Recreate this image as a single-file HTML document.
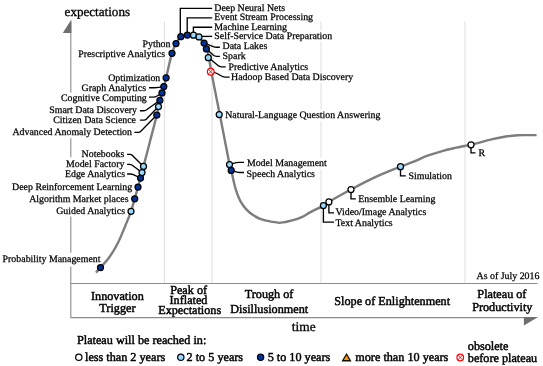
<!DOCTYPE html>
<html lang="en"><head><meta charset="utf-8"><title>Hype Cycle for Data Science, 2016</title>
<style>html,body{margin:0;padding:0;background:#fff}svg{display:block}text{text-rendering:geometricPrecision}</style></head>
<body>
<svg width="543" height="366" viewBox="0 0 543 366">
<rect width="543" height="366" fill="#fff"/>
<path d="M164.5,21.5V47.5M164.5,58.5V283.5M212,42V283.5M321,21.5V31M321,41.5V71.5M321,83V109.5M321,121V157.5M321,169V283.5M465,21.5V283.5" fill="none" stroke="#dedede" stroke-width="1"/>
<g stroke="#8c8c8c" stroke-width="1.1" fill="none">
<path d="M70.8,22V92.4M70.8,138.3V157.2M70.8,216.6V252.7M70.8,266.5V317.6H524.5"/>
<path d="M70.8,283.5H537.5"/>
</g>
<path d="M71.4,19.5V33H62.8Z" fill="#6e6e6e"/>
<path d="M523.9,317.1H538.2L523.9,325.6Z" fill="#6e6e6e"/>
<path d="M96.0,272.6C97.5,270.9 98.7,269.4 100.4,267.5C102.6,265.0 105.4,262.4 108.0,259.0C111.3,254.6 115.1,248.4 118.0,242.7C120.9,237.0 123.3,230.5 125.6,225.0C127.6,220.2 129.5,215.8 131.0,211.3C132.5,207.1 133.5,202.9 134.7,198.8C135.8,194.8 137.0,190.7 138.0,187.0C138.9,183.8 139.6,181.2 140.5,178.0C141.5,174.4 142.3,171.0 143.5,166.4C145.3,159.6 147.9,149.5 150.1,141.0C152.3,132.4 155.1,122.4 156.8,115.0C158.1,109.5 158.6,105.4 159.8,100.7C161.0,96.1 162.7,91.2 163.8,87.1C164.7,83.7 165.2,81.6 166.1,77.8C167.6,71.6 170.0,59.6 172.0,53.3C173.3,49.3 174.3,46.4 175.9,43.6C177.3,41.1 178.8,38.4 180.8,36.9C182.6,35.5 185.1,34.9 187.3,34.6C189.4,34.3 191.5,34.6 193.5,35.1C195.5,35.6 197.4,36.3 199.1,37.6C201.0,39.0 202.8,41.6 204.2,43.6C205.4,45.4 206.2,47.1 207.0,49.2C207.9,51.7 208.3,54.4 208.9,57.6C209.7,61.7 210.2,65.9 211.3,71.9C213.3,82.3 216.9,99.8 219.8,114.6C223.0,130.6 227.7,156.1 229.7,164.7C230.4,167.7 230.7,168.2 231.3,170.7C232.4,175.1 233.9,183.3 235.6,188.8C237.1,193.6 238.7,198.1 240.8,201.8C242.6,204.9 244.6,207.5 246.8,209.8C248.9,212.0 251.2,214.0 253.8,215.6C256.4,217.3 259.5,218.6 262.4,219.6C265.2,220.6 268.1,221.0 271.0,221.6C273.9,222.1 276.7,222.5 279.6,222.9C282.3,222.4 284.8,222.1 287.6,221.5C290.7,220.8 294.6,219.8 297.5,218.8C300.0,217.9 302.0,217.1 304.1,216.0C306.2,214.9 307.6,213.7 310.0,212.4C313.5,210.4 320.0,207.6 323.4,205.6C325.7,204.3 326.4,203.4 328.9,201.9C333.8,198.9 343.3,193.6 351.0,189.5C359.1,185.2 367.9,180.6 376.3,176.7C384.4,173.0 393.6,169.4 400.5,166.7C405.6,164.7 409.3,163.5 413.8,161.7C418.4,159.8 423.0,157.4 427.6,155.7C432.2,154.0 436.8,152.6 441.4,151.3C446.0,150.0 450.4,149.0 455.2,147.9C460.3,146.7 465.3,145.9 471.0,144.6C477.6,143.1 486.0,140.7 492.5,139.2C497.8,138.0 502.7,137.0 507.2,136.3C510.9,135.7 514.1,135.4 517.5,135.2C520.7,135.0 523.8,135.1 527.0,135.1C530.2,135.1 533.4,135.1 536.6,135.1" fill="none" stroke="#7d7d7d" stroke-width="2.4" stroke-linecap="butt" stroke-linejoin="round"/>
<g stroke="#000" stroke-width="1.35" fill="none">
<path d="M180.3,36.4V8.4H212.2"/>
<path d="M187.2,34.7V17.8H212.2"/>
<path d="M193.4,34.9V27.2H212.2"/>
<path d="M199,36.4H212.2"/>
<path d="M204.1,43.1L213.3,46.6Q214.9,47.2 216.5,47.2H219.9"/>
<path d="M206.4,48.9L213.5,55.3Q214.7,56.3 216.3,56.3H219.9"/>
<path d="M208.4,57.4L218.6,65.9Q220,66.9 222,66.9H225.7"/>
<path d="M210.75,71.65C213,71.7 215.5,72.6 218,74S222.5,77.1 225,77.1H229.7"/>
<path d="M229.5,164.5C233,163.6 236,162.3 239,162.3H244"/>
<path d="M231.2,170.4C234,171.2 236.5,172.5 239.5,172.5H244"/>
<path d="M323.4,205.3V222.1H334"/>
<path d="M328.9,201.6V212.9H334"/>
<path d="M351,189.2V198.8H355.8"/>
<path d="M400.5,166.4V175.9H405.8"/>
<path d="M471,144.8V152.8H475.5"/>
<path d="M149,87.7H154.5Q158.5,87.7 163.8,86.6"/>
<path d="M149,97.1H153.2Q155.5,97.1 157.5,95.7L162,92.9"/>
<path d="M139.9,110.7H144Q145.3,110.7 146.3,110L159.9,100.3"/>
<path d="M139.9,120.1H144Q145.3,120.1 146.2,119.2L158.5,106.5"/>
<path d="M134.4,132.4H138.4Q139.7,132.4 140.6,131.5L156.8,115"/>
<path d="M127.1,154.4H130Q131.3,154.4 132.2,155.3L143.5,166.4"/>
<path d="M127.1,164.3H129.6Q130.9,164.3 131.9,165L142,172.5"/>
<path d="M127.1,174H130.5Q132,174 133.3,174.6L140.5,178"/>
</g>
<circle cx="100.5" cy="267.6" r="3" fill="#003399" stroke="#000" stroke-width="1.25"/>
<circle cx="131" cy="211.3" r="3" fill="#99d9ff" stroke="#000" stroke-width="1.25"/>
<circle cx="134.7" cy="198.8" r="3" fill="#003399" stroke="#000" stroke-width="1.25"/>
<circle cx="138" cy="187.0" r="3" fill="#003399" stroke="#000" stroke-width="1.25"/>
<circle cx="140.5" cy="178.0" r="3" fill="#003399" stroke="#000" stroke-width="1.25"/>
<circle cx="142" cy="172.5" r="3" fill="#99d9ff" stroke="#000" stroke-width="1.25"/>
<circle cx="143.5" cy="166.4" r="3" fill="#99d9ff" stroke="#000" stroke-width="1.25"/>
<circle cx="156.8" cy="115.0" r="3" fill="#003399" stroke="#000" stroke-width="1.25"/>
<circle cx="158.5" cy="106.5" r="3" fill="#99d9ff" stroke="#000" stroke-width="1.25"/>
<circle cx="159.9" cy="100.3" r="3" fill="#003399" stroke="#000" stroke-width="1.25"/>
<circle cx="162" cy="92.9" r="3" fill="#003399" stroke="#000" stroke-width="1.25"/>
<circle cx="163.8" cy="86.6" r="3" fill="#003399" stroke="#000" stroke-width="1.25"/>
<circle cx="166.1" cy="77.8" r="3" fill="#003399" stroke="#000" stroke-width="1.25"/>
<circle cx="172" cy="53.3" r="3" fill="#003399" stroke="#000" stroke-width="1.25"/>
<circle cx="176" cy="43.5" r="3" fill="#003399" stroke="#000" stroke-width="1.25"/>
<circle cx="180.8" cy="36.7" r="3" fill="#003399" stroke="#000" stroke-width="1.25"/>
<circle cx="187.3" cy="35.0" r="3" fill="#003399" stroke="#000" stroke-width="1.25"/>
<circle cx="193.5" cy="35.2" r="3" fill="#99d9ff" stroke="#000" stroke-width="1.25"/>
<circle cx="199" cy="36.9" r="3" fill="#99d9ff" stroke="#000" stroke-width="1.25"/>
<circle cx="204.1" cy="43.1" r="3" fill="#003399" stroke="#000" stroke-width="1.25"/>
<circle cx="206.4" cy="48.9" r="3" fill="#003399" stroke="#000" stroke-width="1.25"/>
<circle cx="208.3" cy="57.7" r="3" fill="#99d9ff" stroke="#000" stroke-width="1.25"/>
<circle cx="219.2" cy="114.6" r="3" fill="#99d9ff" stroke="#000" stroke-width="1.25"/>
<circle cx="229.5" cy="164.5" r="3" fill="#99d9ff" stroke="#000" stroke-width="1.25"/>
<circle cx="231.2" cy="170.4" r="3" fill="#003399" stroke="#000" stroke-width="1.25"/>
<circle cx="323.4" cy="205.6" r="3" fill="#99d9ff" stroke="#000" stroke-width="1.25"/>
<circle cx="328.9" cy="201.9" r="3" fill="#ffffff" stroke="#000" stroke-width="1.25"/>
<circle cx="351" cy="189.5" r="3" fill="#ffffff" stroke="#000" stroke-width="1.25"/>
<circle cx="400.5" cy="166.7" r="3" fill="#99d9ff" stroke="#000" stroke-width="1.25"/>
<circle cx="471" cy="144.8" r="3" fill="#ffffff" stroke="#000" stroke-width="1.25"/>
<g stroke="#fa0808" fill="#fff"><circle cx="210.75" cy="71.65" r="3.35" stroke-width="1.25"/><path stroke-width="0.95" d="M208.34,69.24L213.16,74.06M208.34,74.06L213.16,69.24"/></g>
<g font-family="'Liberation Serif', 'Times New Roman', serif" font-size="9.9" fill="#000" stroke="#000" stroke-width="0.25">
<text x="100.5" y="261.8" text-anchor="end">Probability Management</text>
<text x="125" y="214.4" text-anchor="end">Guided Analytics</text>
<text x="128.5" y="201.9" text-anchor="end">Algorithm Market places</text>
<text x="132.2" y="190.1" text-anchor="end">Deep Reinforcement Learning</text>
<text x="125" y="177.4" text-anchor="end">Edge Analytics</text>
<text x="124.4" y="167.3" text-anchor="end">Model Factory</text>
<text x="124.4" y="157.4" text-anchor="end">Notebooks</text>
<text x="132" y="135.2" text-anchor="end">Advanced Anomaly Detection</text>
<text x="136" y="123.4" text-anchor="end">Citizen Data Science</text>
<text x="137" y="113.4" text-anchor="end">Smart Data Discovery</text>
<text x="146.8" y="101.4" text-anchor="end">Cognitive Computing</text>
<text x="146" y="91.2" text-anchor="end">Graph Analytics</text>
<text x="160.3" y="81.0" text-anchor="end">Optimization</text>
<text x="165.1" y="56.5" text-anchor="end">Prescriptive Analytics</text>
<text x="170.5" y="47.3" text-anchor="end">Python</text>
<text x="214.3" y="11.1" text-anchor="start">Deep Neural Nets</text>
<text x="214.3" y="20.4" text-anchor="start">Event Stream Processing</text>
<text x="214.3" y="29.7" text-anchor="start">Machine Learning</text>
<text x="214.3" y="39.3" text-anchor="start">Self-Service Data Preparation</text>
<text x="222.6" y="49.3" text-anchor="start">Data Lakes</text>
<text x="222.6" y="58.6" text-anchor="start">Spark</text>
<text x="228.4" y="70.1" text-anchor="start">Predictive Analytics</text>
<text x="231.1" y="80.2" text-anchor="start">Hadoop Based Data Discovery</text>
<text x="225.2" y="117.9" text-anchor="start">Natural-Language Question Answering</text>
<text x="246.9" y="165.6" text-anchor="start">Model Management</text>
<text x="246.6" y="176.6" text-anchor="start">Speech Analytics</text>
<text x="358.3" y="201.6" text-anchor="start">Ensemble Learning</text>
<text x="335.5" y="215.4" text-anchor="start">Video/Image Analytics</text>
<text x="335.5" y="226.0" text-anchor="start">Text Analytics</text>
<text x="408.5" y="178.6" text-anchor="start">Simulation</text>
<text x="478.6" y="155.6" text-anchor="start">R</text>
<text x="539.4" y="279.1" text-anchor="end">As of July 2016</text>
</g>
<g font-family="'Liberation Serif', 'Times New Roman', serif" fill="#000" stroke="#000" stroke-width="0.45">
<text x="64.6" y="15.9" font-size="13.1" stroke-width="0.3">expectations</text>
<text x="291.8" y="331.1" font-size="13.4" stroke-width="0.3">time</text>
<g font-size="12.2" text-anchor="middle">
<text x="117.4" y="300.2">Innovation</text>
<text x="117.4" y="311.5">Trigger</text>
<text x="188.6" y="293.8">Peak of</text>
<text x="188.5" y="304.3">Inflated</text>
<text x="189.7" y="313.5">Expectations</text>
<text x="269.1" y="297.6">Trough of</text>
<text x="269.2" y="312.7">Disillusionment</text>
<text x="392.2" y="304.6">Slope of Enlightenment</text>
<text x="501.9" y="297.7">Plateau of</text>
<text x="502.3" y="311.2">Productivity</text>
</g>
<g font-size="12.2">
<text x="77" y="343.8">Plateau will be reached in:</text>
<text x="85" y="361.4">less than 2 years</text>
<text x="186.6" y="361.4">2 to 5 years</text>
<text x="267.7" y="361.4">5 to 10 years</text>
<text x="355.3" y="361.4">more than 10 years</text>
<text x="467.8" y="349.9">obsolete</text>
<text x="467.8" y="361.6">before plateau</text>
</g></g>
<circle cx="78.8" cy="357.3" r="3.15" fill="#fff" stroke="#000" stroke-width="1.2"/>
<circle cx="180.8" cy="357.3" r="3.15" fill="#99d9ff" stroke="#00000f" stroke-width="1.2"/>
<circle cx="260.6" cy="357.3" r="3.15" fill="#003399" stroke="#00000f" stroke-width="1.2"/>
<path d="M346.5,354.2L350.4,360.75H342.6Z" fill="#ff9900" stroke="#141008" stroke-width="1.3" stroke-linejoin="miter"/>
<g stroke="#fa0808" fill="#fff"><circle cx="460.25" cy="357.5" r="3.3" stroke-width="1.25"/><path stroke-width="0.95" d="M457.87,355.12L462.63,359.88M457.87,359.88L462.63,355.12"/></g>
</svg>
</body></html>
